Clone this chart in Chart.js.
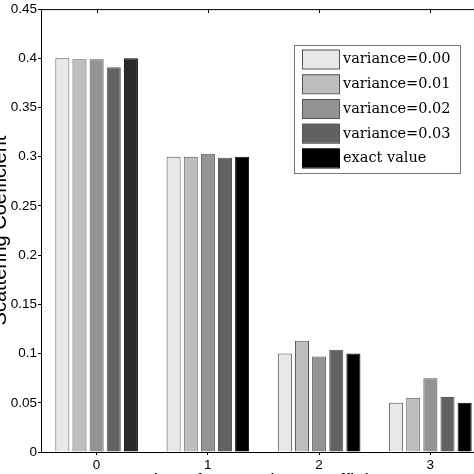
<!DOCTYPE html>
<html>
<head>
<meta charset="utf-8">
<script src="https://cdn.jsdelivr.net/npm/chart.js@4"></script>
<style>
  html, body { margin: 0; padding: 0; background: #fff; overflow: hidden; }
  #frame { position: relative; width: 474px; height: 474px; overflow: hidden; }
  #box { position: absolute; left: -8px; top: 0; width: 494px; height: 500px; }
</style>
</head>
<body>
<div id="frame"><div id="box"><canvas id="grafico"></canvas></div></div>
<script>
// Datos
const categorias = ["0", "1", "2", "3"];
const etiquetas = ["variance=0.00", "variance=0.01", "variance=0.02", "variance=0.03", "exact value"];
const var000 = [0.400, 0.300, 0.100, 0.050];
const var001 = [0.399, 0.300, 0.113, 0.055];
const var002 = [0.399, 0.303, 0.097, 0.075];
const var003 = [0.391, 0.299, 0.104, 0.056];
const exacto = [0.400, 0.300, 0.100, 0.050];
const yTicks = [0, 0.05, 0.1, 0.15, 0.2, 0.25, 0.3, 0.35, 0.4, 0.45];

const rellenos = ["#e8e8e8", "#bebebe", "#939393", "#626262", "#000000"];
const series = [var000, var001, var002, var003, exacto];

const datasets = series.map((d, i) => ({
  label: etiquetas[i],
  data: d,
  backgroundColor: i === 4 ? ["#2a2a2a", "#000", "#000", "#000"] : rellenos[i],
  borderColor: i === 4 ? "#000" : "#555",
  borderWidth: 1,
  categoryPercentage: 0.77,
  barPercentage: 0.82
}));

// marco, ticks de arriba y leyenda estilo matlab
const marco = {
  id: "marco",
  afterDraw(chart) {
    const { ctx, chartArea: a, scales } = chart;
    ctx.save();
    ctx.strokeStyle = "#000";
    ctx.lineWidth = 1;
    ctx.strokeRect(a.left + 0.5, a.top + 0.5, a.right - a.left, a.bottom - a.top);
    // ticks superiores
    categorias.forEach((c, i) => {
      const x = Math.round(scales.x.getPixelForValue(i)) + 0.5;
      ctx.beginPath();
      ctx.moveTo(x, a.top);
      ctx.lineTo(x, a.top + 4);
      ctx.stroke();
    });
    // leyenda
    const lx = 302, ly = 45, lw = 166, lh = 128;
    ctx.fillStyle = "#fff";
    ctx.fillRect(lx, ly, lw, lh);
    ctx.strokeStyle = "#777";
    ctx.strokeRect(lx + 0.5, ly + 0.5, lw, lh);
    ctx.font = "14.5px 'DejaVu Serif', serif";
    ctx.textBaseline = "middle";
    etiquetas.forEach((t, i) => {
      const y = 49.5 + i * 24.75;
      ctx.fillStyle = rellenos[i];
      ctx.fillRect(310, y, 37, 19);
      ctx.strokeStyle = i === 4 ? "#000" : "#555";
      ctx.strokeRect(310.5, y + 0.5, 37, 19);
      ctx.fillStyle = "#000";
      ctx.fillText(t, 351, y + 10);
    });
    ctx.restore();
  }
};

new Chart(document.getElementById("grafico"), {
  type: "bar",
  data: { labels: categorias, datasets: datasets },
  options: {
    responsive: true,
    maintainAspectRatio: false,
    animation: false,
    layout: { padding: { top: 6, right: 0, bottom: 0, left: 0 } },
    plugins: { legend: { display: false }, tooltip: { enabled: false } },
    scales: {
      x: {
        grid: { offset: false, drawOnChartArea: false, tickLength: 3, color: "#000" },
        border: { color: "#000" },
        ticks: { color: "#000", font: { family: "'Liberation Sans', Arial", size: 13.5 }, padding: 2 },
        title: {
          display: true,
          text: "Index of Scattering Coefficient",
          color: "#000",
          font: { family: "'Liberation Sans', Arial", size: 20 },
          padding: { top: 0, bottom: 6 }
        },
        afterFit(s) { s.height = 48; }
      },
      y: {
        min: 0,
        max: 0.45,
        afterBuildTicks(s) { s.ticks = yTicks.map(v => ({ value: v })); },
        grid: { drawOnChartArea: false, tickLength: 3, color: "#000" },
        border: { color: "#000" },
        ticks: {
          color: "#000",
          font: { family: "'Liberation Sans', Arial", size: 13.5 },
          padding: 1,
          callback: v => String(+v.toFixed(2))
        },
        title: {
          display: true,
          text: "Scattering Coefficient",
          color: "#000",
          font: { family: "'Liberation Sans', Arial", size: 20 },
          padding: { top: -4, bottom: 0 }
        },
        afterFit(s) { s.width = 49; }
      }
    }
  },
  plugins: [marco]
});
</script>
</body>
</html>
